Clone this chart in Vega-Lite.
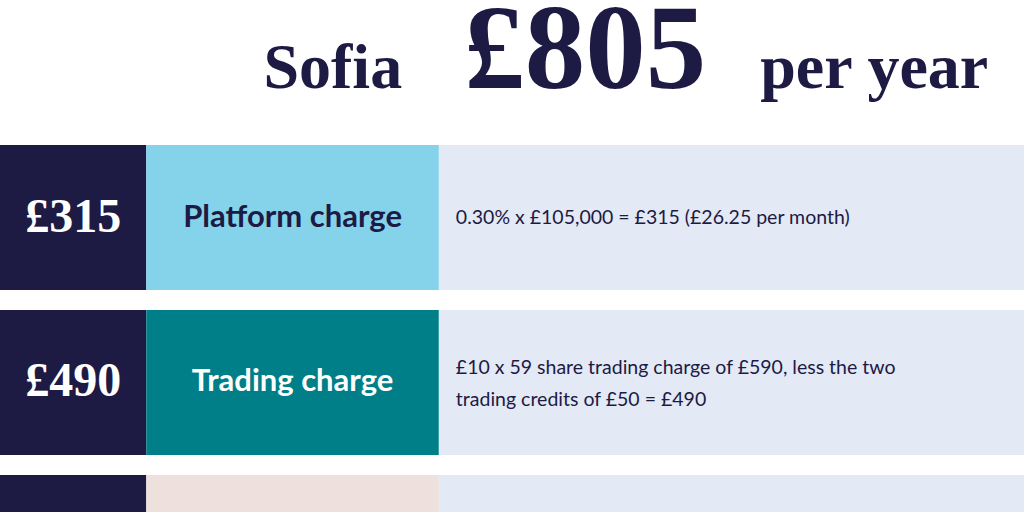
{
  "$schema": "https://vega.github.io/schema/vega-lite/v6.json",
  "width": 1024,
  "height": 512,
  "autosize": {"type": "none"},
  "padding": 0,
  "background": "#ffffff",
  "config": {"view": {"stroke": null}},
  "datasets": {
    "cells": [
      {"row": "r1", "part": "amount", "start": 0, "end": 1, "kind": "amount"},
      {"row": "r1", "part": "label", "start": 1, "end": 3, "kind": "platform"},
      {"row": "r1", "part": "detail", "start": 3, "end": 7, "kind": "detail"},
      {"row": "r2", "part": "amount", "start": 0, "end": 1, "kind": "amount"},
      {"row": "r2", "part": "label", "start": 1, "end": 3, "kind": "trading"},
      {"row": "r2", "part": "detail", "start": 3, "end": 7, "kind": "detail"},
      {"row": "r3", "part": "amount", "start": 0, "end": 1, "kind": "amount"},
      {"row": "r3", "part": "label", "start": 1, "end": 3, "kind": "other"},
      {"row": "r3", "part": "detail", "start": 3, "end": 7, "kind": "detail"}
    ],
    "items": [
      {"row": "r1", "amount": "£315", "label": "Platform charge", "kind": "platform", "lines": 1, "detail": "0.30% x £105,000 = £315 (£26.25 per month)"},
      {"row": "r2", "amount": "£490", "label": "Trading charge", "kind": "trading", "lines": 2, "detail": "£10 x 59 share trading charge of £590, less the two\ntrading credits of £50 = £490"}
    ],
    "head": [
      {"row": "head", "name": "Sofia", "total": "£805", "unit": "per year", "centre": 4}
    ]
  },
  "encoding": {
    "y": {
      "field": "row",
      "type": "nominal",
      "axis": null,
      "scale": {
        "domain": ["head", "r1", "r2", "r3"],
        "rangeMin": -20,
        "rangeMax": 620,
        "paddingInner": 0.1212,
        "paddingOuter": 0
      }
    }
  },
  "layer": [
    {
      "data": {"name": "cells"},
      "mark": {"type": "rect"},
      "encoding": {
        "x": {"field": "start", "type": "quantitative", "axis": null, "scale": {"domain": [0, 7], "nice": false, "zero": false}},
        "x2": {"field": "end"},
        "color": {
          "field": "kind",
          "type": "nominal",
          "legend": null,
          "scale": {
            "domain": ["amount", "platform", "trading", "other", "detail"],
            "range": ["#1d1a44", "#84d3eb", "#007f88", "#eee0dc", "#e3e9f5"]
          }
        }
      }
    },
    {
      "data": {"name": "items"},
      "mark": {"type": "text", "font": "Liberation Serif", "fontWeight": "bold", "fontSize": 48, "color": "#ffffff", "align": "center", "baseline": "middle"},
      "encoding": {
        "x": {"datum": 0.5, "type": "quantitative"},
        "text": {"field": "amount"}
      }
    },
    {
      "data": {"name": "items"},
      "mark": {"type": "text", "font": "Lato", "fontWeight": "bold", "fontSize": 31, "letterSpacing": 3, "align": "center", "baseline": "middle"},
      "encoding": {
        "x": {"datum": 2, "type": "quantitative"},
        "text": {"field": "label"},
        "color": {
          "field": "kind",
          "type": "nominal",
          "legend": null,
          "scale": {"domain": ["platform", "trading"], "range": ["#1d1a44", "#ffffff"]}
        }
      }
    },
    {
      "data": {"name": "items"},
      "transform": [{"filter": "datum.lines == 1"}],
      "mark": {"type": "text", "font": "Lato", "fontSize": 19.5, "color": "#1d1a44", "align": "left", "baseline": "middle", "dx": 17, "lineBreak": "\n", "lineHeight": 32},
      "encoding": {
        "x": {"datum": 3, "type": "quantitative"},
        "text": {"field": "detail"}
      }
    },
    {
      "data": {"name": "items"},
      "transform": [{"filter": "datum.lines == 2"}],
      "mark": {"type": "text", "font": "Lato", "fontSize": 19.5, "color": "#1d1a44", "align": "left", "baseline": "middle", "dx": 17, "dy": -14, "lineBreak": "\n", "lineHeight": 32},
      "encoding": {
        "x": {"datum": 3, "type": "quantitative"},
        "text": {"field": "detail"}
      }
    },
    {
      "data": {"name": "head"},
      "mark": {"type": "text", "font": "Liberation Serif", "fontWeight": "bold", "fontSize": 121, "letterSpacing": 7, "color": "#1d1a44", "align": "center", "baseline": "alphabetic", "dy": 35},
      "encoding": {
        "x": {"field": "centre", "type": "quantitative"},
        "text": {"field": "total"}
      }
    },
    {
      "data": {"name": "head"},
      "mark": {"type": "text", "font": "Liberation Serif", "fontWeight": "bold", "fontSize": 64, "color": "#1d1a44", "align": "right", "baseline": "alphabetic", "dy": 35, "dx": -183},
      "encoding": {
        "x": {"field": "centre", "type": "quantitative"},
        "text": {"field": "name"}
      }
    },
    {
      "data": {"name": "head"},
      "mark": {"type": "text", "font": "Liberation Serif", "fontWeight": "bold", "fontSize": 64, "color": "#1d1a44", "align": "left", "baseline": "alphabetic", "dy": 35, "dx": 175},
      "encoding": {
        "x": {"field": "centre", "type": "quantitative"},
        "text": {"field": "unit"}
      }
    }
  ],
  "resolve": {"scale": {"color": "independent"}}
}
